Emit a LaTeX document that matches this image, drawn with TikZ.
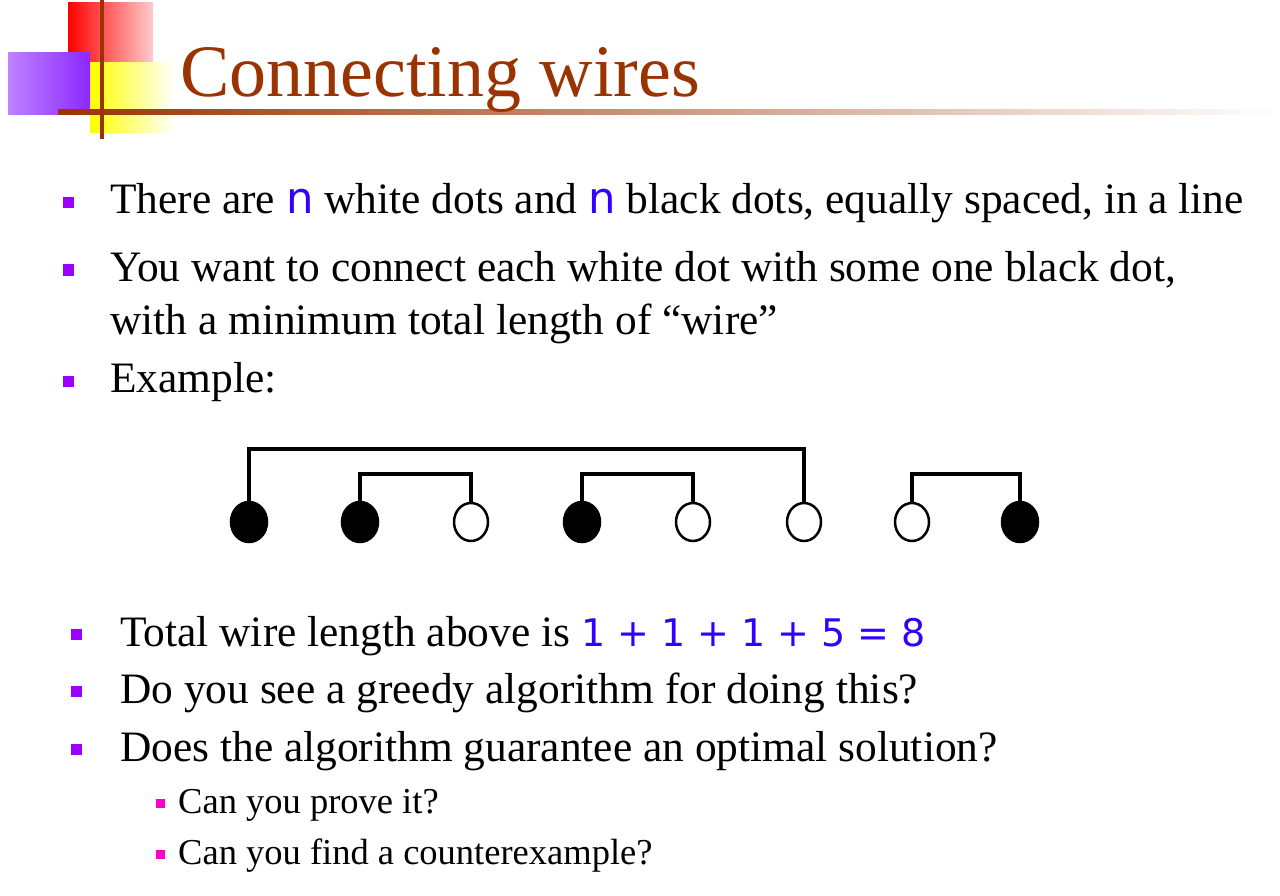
\documentclass[tikz,border=0pt]{standalone}
\usepackage{fontspec}
\usetikzlibrary{shapes.geometric}
\setmainfont{Liberation Serif}
\newfontfamily\sfn{DejaVu Sans}
\begin{document}
\begin{tikzpicture}[x=1pt,y=-1pt,
  bul/.style={fill={rgb,255:red,153;green,0;blue,255},minimum size=11pt,inner sep=0pt},
  sbul/.style={fill={rgb,255:red,255;green,0;blue,204},minimum size=9pt,inner sep=0pt},
  txt/.style={anchor=base west,inner sep=0pt,font=\fontsize{43.4}{48}\selectfont},
  stxt/.style={anchor=base west,inner sep=0pt,font=\fontsize{36.5}{40}\selectfont},
  bdot/.style={ellipse,draw,line width=2.5pt,fill=black,minimum width=36pt,minimum height=40pt,inner sep=0pt},
  wdot/.style={ellipse,draw,line width=2.5pt,fill=white,minimum width=34pt,minimum height=38pt,inner sep=0pt},
  wire/.style={line width=3.5pt}]
\definecolor{brn}{RGB}{153,51,0}
\definecolor{nblue}{RGB}{51,0,255}
\definecolor{pl}{RGB}{190,130,255}
\definecolor{pd}{RGB}{140,40,255}
\useasboundingbox (0,0) rectangle (1280,896);
% logo
\shade[left color=red,right color=red!20] (68,3) rectangle (153,63);
\shade[left color=yellow,right color=white] (90,63) rectangle (175,133);
\shade[left color=pl,right color=pd] (8,53) rectangle (90,115);
\shade[left color=brn,right color=white] (58,110) rectangle (1280,115);
\fill[brn] (100,0) rectangle (104,139);
\node[anchor=base west,inner sep=0pt,text=brn,font=\fontsize{74}{76}\selectfont] (title) at (180,97) {Connecting wires};
% bullets
\node[bul] (b1) at (68,203) {}; \node[txt] (t1) at (110,214) {There are {\sfn\color{nblue}n} white dots and {\sfn\color{nblue}n} black dots, equally spaced, in a line};
\node[bul] (b2) at (68,270) {}; \node[txt] (t2) at (110,281) {You want to connect each white dot with some one black dot,};
\node[txt] (t2b) at (110,334) {with a minimum total length of “wire”};
\node[bul] (b3) at (68,381) {}; \node[txt] (t3) at (110,392) {Example:};
% diagram
\foreach \i/\x/\s in {1/249/bdot,2/360/bdot,3/471/wdot,4/582/bdot,5/693/wdot,6/804/wdot,7/912/wdot,8/1020/bdot}
  \node[\s] (d\i) at (\x,522) {};
\coordinate (h1) at (249,449); \coordinate (h6) at (804,449);
\draw[wire] (d1.north) -- (h1) -- (h6) -- (d6.north);
\draw[wire] (d2.north) -- (360,474) -- (471,474) -- (d3.north);
\draw[wire] (d4.north) -- (582,474) -- (693,474) -- (d5.north);
\draw[wire] (d7.north) -- (912,474) -- (1020,474) -- (d8.north);
% lower bullets
\node[bul] (b4) at (76,634) {}; \node[txt] (t4) at (120,646) {Total wire length above is {\sfn\color{nblue}\fontsize{38}{42}\selectfont 1 + 1 + 1 + 5 = 8}};
\node[bul] (b5) at (76,691) {}; \node[txt] (t5) at (120,703) {Do you see a greedy algorithm for doing this?};
\node[bul] (b6) at (76,749) {}; \node[txt] (t6) at (120,761) {Does the algorithm guarantee an optimal solution?};
\node[sbul] (s1) at (160,803) {}; \node[stxt] (u1) at (178,813) {Can you prove it?};
\node[sbul] (s2) at (160,854) {}; \node[stxt] (u2) at (178,864) {Can you find a counterexample?};
\end{tikzpicture}
\end{document}
